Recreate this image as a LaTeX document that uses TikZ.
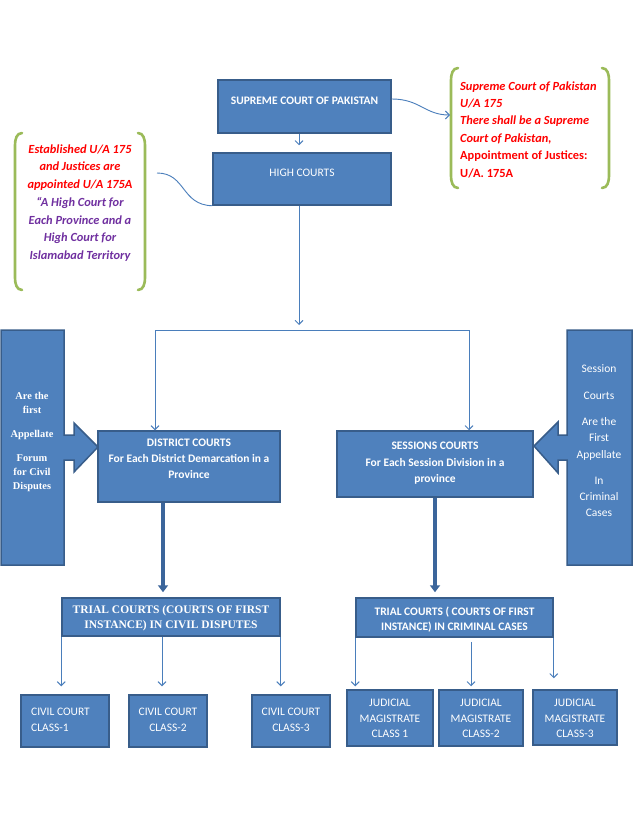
\documentclass[tikz,border=0pt]{standalone}
\usepackage{fontspec}
\setmainfont{Carlito}
\newfontfamily\timesfont{Liberation Serif}
\usetikzlibrary{arrows.meta}

\definecolor{courtblue}{HTML}{4F81BD}
\definecolor{courtedge}{HTML}{385D8A}
\definecolor{linkblue}{HTML}{4A7EBB}
\definecolor{mainblue}{HTML}{3B659B}
\definecolor{noteframe}{HTML}{9BBB59}
\definecolor{notered}{HTML}{FF0000}
\definecolor{notepurple}{HTML}{7030A0}

\begin{document}
\begin{tikzpicture}[x=1pt, y=-1pt,
  court/.style={draw=courtedge, fill=courtblue, line width=1.5pt, inner sep=0pt},
  courttext/.style={text=white, align=center, inner sep=0pt},
  link/.style={draw=linkblue, line width=0.9pt, -{Straight Barb[length=4pt,width=8pt]}},
  mainlink/.style={draw=mainblue, line width=3.2pt, -{Triangle[length=7pt,width=10pt]}},
  bracket/.style={draw=noteframe, line width=2.6pt, line cap=round}]
\fill[white] (0,0) rectangle (638,826);
\useasboundingbox (0,0) rectangle (638,826);

\node[court, minimum width=173pt, minimum height=53pt] (sc) at (304.5,106.5) {};
\node[courttext, font=\fontsize{11.5}{16}\selectfont\bfseries] (sc-text) at (304.5,101) {SUPREME COURT OF PAKISTAN};
\node[court, minimum width=178pt, minimum height=52pt] (hc) at (302,179) {};
\node[courttext, font=\fontsize{11.5}{16}\selectfont] (hc-text) at (302,173) {HIGH COURTS};

\node[text=notered, align=left, anchor=west, inner sep=0pt, font=\fontsize{12.4}{17.4}\selectfont\bfseries] (scnote) at (460,129.5)
  {\textit{Supreme Court of Pakistan}\\ \textit{U/A 175}\\ \textit{There shall be a Supreme}\\ \textit{Court of Pakistan,}\\ Appointment of Justices:\\ U/A. 175A};
\draw[bracket] (458,68) to[out=180,in=90] (451,80) -- (451,176) to[out=-90,in=180] (458,188);
\draw[bracket] (602,68) to[out=0,in=90] (609,80) -- (609,176) to[out=-90,in=0] (602,188);
\coordinate (scnote-in) at (450,115);
\draw[link] ([yshift=7.5pt]sc.east) .. controls (420,99) and (425,115) .. (scnote-in);

\node[align=center, inner sep=0pt, font=\fontsize{12.4}{17.7}\selectfont\bfseries\itshape] (hcnote) at (80,203)
  {\textcolor{notered}{Established U/A 175}\\ \textcolor{notered}{and Justices are}\\ \textcolor{notered}{appointed U/A 175A}\\
   \textcolor{notepurple}{“A High Court for}\\ \textcolor{notepurple}{Each Province and a}\\ \textcolor{notepurple}{High Court for}\\ \textcolor{notepurple}{Islamabad Territory}};
\draw[bracket] (22,133) to[out=180,in=90] (15,145) -- (15,278) to[out=-90,in=180] (22,290);
\draw[bracket] (138,133) to[out=0,in=90] (145,145) -- (145,278) to[out=-90,in=0] (138,290);
\coordinate (hcnote-out) at (157,173);
\draw[link, -] (hcnote-out) .. controls (186,173) and (181,205) .. (hc.south west);

\draw[link, shorten >=7pt] ([xshift=-5.5pt]sc.south) -- ([xshift=-3pt]hc.north);

\node[court, minimum width=182pt, minimum height=71pt] (dc) at (189,466.5) {};
\node[courttext, font=\fontsize{11.5}{16}\selectfont\bfseries] (dc-text) at (189,459)
  {DISTRICT COURTS\\ For Each District Demarcation in a\\ Province};
\node[court, minimum width=196pt, minimum height=66pt] (ss) at (435,464) {};
\node[courttext, font=\fontsize{11.5}{16.5}\selectfont\bfseries] (ss-text) at (435,463.5)
  {SESSIONS COURTS\\ For Each Session Division in a\\ province};

\coordinate (fork) at (299,330);
\draw[link] (hc.south -| fork) -- ([yshift=5pt]fork);
\draw[link] (fork) -| ([xshift=-34pt]dc.north);
\draw[link] (fork) -| ([xshift=34pt]ss.north);

\draw[court] (1,330) -- (64,330) -- (64,435) -- (74,435) -- (74,423) -- (98,447) -- (74,472) -- (74,460) -- (64,460) -- (64,565) -- (1,565) -- cycle;
\node[courttext, font=\fontsize{10.4}{14}\timesfont\bfseries] (civil-appeal) at (32,442)
  {Are the\\ first\\[10pt] Appellate\\[10pt] Forum\\ for Civil\\ Disputes};
\draw[court] (632,330) -- (567,330) -- (567,435) -- (558,435) -- (558,422) -- (534,446) -- (558,473) -- (558,460) -- (567,460) -- (567,565) -- (632,565) -- cycle;
\node[courttext, font=\fontsize{11.5}{16.3}\selectfont] (criminal-appeal) at (599,441)
  {Session\\[10pt] Courts\\[10pt] Are the\\ First\\ Appellate\\[10pt] In\\ Criminal\\ Cases};

\node[court, minimum width=218pt, minimum height=38pt] (tcv) at (171,617) {};
\node[courttext, font=\fontsize{11.5}{15}\timesfont\bfseries] (tcv-text) at (171,618.5)
  {TRIAL COURTS (COURTS OF FIRST\\ INSTANCE) IN CIVIL DISPUTES};
\node[court, minimum width=197pt, minimum height=39pt] (tcr) at (454.5,617.5) {};
\node[courttext, font=\fontsize{11.5}{15}\selectfont\bfseries] (tcr-text) at (454.5,619.5)
  {TRIAL COURTS ( COURTS OF FIRST\\ INSTANCE) IN CRIMINAL CASES};

\draw[mainlink, shorten >=5pt] ([xshift=-26pt]dc.south) -- ([xshift=-8pt]tcv.north);
\draw[mainlink, shorten >=5pt] (ss.south) -- (ss.south |- tcr.north);

\node[court, minimum width=88pt, minimum height=52pt] (cc1) at (65,721) {};
\node[courttext, align=left, anchor=west, font=\fontsize{11.5}{16}\selectfont] (cc1-text) at (31,720) {CIVIL COURT\\ CLASS-1};
\node[court, minimum width=78pt, minimum height=52pt] (cc2) at (168,721) {};
\node[courttext, font=\fontsize{11.5}{16}\selectfont] (cc2-text) at (168,720) {CIVIL COURT\\ CLASS-2};
\node[court, minimum width=78pt, minimum height=52pt] (cc3) at (291,721) {};
\node[courttext, font=\fontsize{11.5}{16}\selectfont] (cc3-text) at (291,720) {CIVIL COURT\\ CLASS-3};

\node[court, minimum width=86pt, minimum height=56pt] (jm1) at (390,718) {};
\node[courttext, font=\fontsize{11.5}{15.5}\selectfont] (jm1-text) at (390,718.5) {JUDICIAL\\ MAGISTRATE\\ CLASS 1};
\node[court, minimum width=84pt, minimum height=56pt] (jm2) at (481,718) {};
\node[courttext, font=\fontsize{11.5}{15.5}\selectfont] (jm2-text) at (481,718.5) {JUDICIAL\\ MAGISTRATE\\ CLASS-2};
\node[court, minimum width=84pt, minimum height=55pt] (jm3) at (575,717.5) {};
\node[courttext, font=\fontsize{11.5}{15.5}\selectfont] (jm3-text) at (575,718.5) {JUDICIAL\\ MAGISTRATE\\ CLASS-3};

\coordinate (tcv-mid) at ([xshift=-9pt]tcv.south);
\coordinate (tcr-mid) at ([xshift=16.5pt]tcr.south);
\draw[link, shorten >=8pt] (tcv.south west) -- (tcv.south west |- cc1.north);
\draw[link, shorten >=8pt] (tcv-mid) -- (tcv-mid |- cc2.north);
\draw[link, shorten >=8pt] (tcv.south east) -- (tcv.south east |- cc3.north);
\draw[link, shorten >=3pt] (tcr.south west) -- (tcr.south west |- jm1.north);
\draw[link, shorten <=4pt, shorten >=3pt] (tcr-mid) -- (tcr-mid |- jm2.north);
\draw[link, shorten >=11pt] (tcr.south east) -- (tcr.south east |- jm3.north);
\end{tikzpicture}
\end{document}
